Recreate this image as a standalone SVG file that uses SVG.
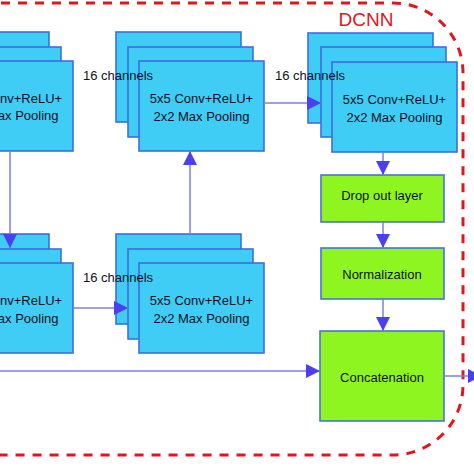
<svg xmlns="http://www.w3.org/2000/svg" width="474" height="474" viewBox="0 0 474 474">
<defs>
<style>
.b{fill:#3fcdf6;stroke:#3b6fe0;stroke-width:1.6}
.g{fill:#8ef521;stroke:#4a72d8;stroke-width:1.6}
.t{font-family:"Liberation Sans",Arial,sans-serif;font-size:13px;fill:#111122;text-anchor:middle}
.c{stroke:#7b7fe6;stroke-width:1.5;fill:none}
</style>
<marker id="ah" viewBox="0 0 10 10" refX="10" refY="5" markerWidth="17" markerHeight="14" markerUnits="userSpaceOnUse" orient="auto">
<path d="M0,0 L10,5 L0,10 Z" fill="#4a3ff2"/>
</marker>
</defs>
<rect width="474" height="474" fill="#ffffff"/>
<rect x="-120" y="3" width="583" height="452" rx="70" ry="70" fill="none" stroke="#e0161c" stroke-width="3" stroke-dasharray="9,8"/>
<text x="366" y="26" font-family="'Liberation Sans',Arial,sans-serif" font-size="19" fill="#e0161c" text-anchor="middle">DCNN</text>
<g id="conv1">
<rect class="b" x="-76" y="32" width="125" height="90"/>
<rect class="b" x="-64" y="47" width="125" height="90"/>
<rect class="b" x="-52" y="61" width="125" height="90"/>
<text class="t" x="10.5" y="103">5x5 Conv+ReLU+</text>
<text class="t" x="10.5" y="120">2x2 Max Pooling</text>
</g>
<g id="conv2">
<rect class="b" x="116" y="32" width="125" height="90"/>
<rect class="b" x="128" y="47" width="125" height="90"/>
<rect class="b" x="139" y="61" width="125" height="90"/>
<text class="t" x="201.5" y="103">5x5 Conv+ReLU+</text>
<text class="t" x="201.5" y="121">2x2 Max Pooling</text>
</g>
<g id="conv3">
<rect class="b" x="308" y="33" width="125" height="90"/>
<rect class="b" x="321" y="47" width="125" height="90"/>
<rect class="b" x="332" y="62" width="125" height="90"/>
<text class="t" x="394.5" y="104">5x5 Conv+ReLU+</text>
<text class="t" x="394.5" y="122">2x2 Max Pooling</text>
</g>
<g id="conv4">
<rect class="b" x="-76" y="234" width="125" height="90"/>
<rect class="b" x="-64" y="249" width="125" height="90"/>
<rect class="b" x="-52" y="263" width="125" height="90"/>
<text class="t" x="10.5" y="305">5x5 Conv+ReLU+</text>
<text class="t" x="10.5" y="323">2x2 Max Pooling</text>
</g>
<g id="conv5">
<rect class="b" x="116" y="234" width="125" height="90"/>
<rect class="b" x="128" y="249" width="125" height="90"/>
<rect class="b" x="139" y="263" width="125" height="90"/>
<text class="t" x="201.5" y="305">5x5 Conv+ReLU+</text>
<text class="t" x="201.5" y="323">2x2 Max Pooling</text>
</g>
<g id="dropout">
<rect class="g" x="321" y="175" width="123" height="47"/>
<text class="t" x="382" y="200">Drop out layer</text>
</g>
<g id="norm">
<rect class="g" x="321" y="248" width="123" height="51"/>
<text class="t" x="382" y="279">Normalization</text>
</g>
<g id="concat">
<rect class="g" x="320" y="331" width="124" height="90"/>
<text class="t" x="382" y="382">Concatenation</text>
</g>
<g id="connectors">
<line class="c" x1="10" y1="151" x2="10" y2="248" marker-end="url(#ah)"/>
<line class="c" x1="190" y1="234" x2="190" y2="151" marker-end="url(#ah)"/>
<line class="c" x1="73" y1="308" x2="128" y2="308" marker-end="url(#ah)"/>
<line class="c" x1="264" y1="103" x2="321" y2="103" marker-end="url(#ah)"/>
<line class="c" x1="383" y1="152" x2="383" y2="175" marker-end="url(#ah)"/>
<line class="c" x1="383" y1="222" x2="383" y2="248" marker-end="url(#ah)"/>
<line class="c" x1="383" y1="299" x2="383" y2="331" marker-end="url(#ah)"/>
<line class="c" x1="0" y1="371" x2="320" y2="371" marker-end="url(#ah)"/>
<line class="c" x1="444" y1="376" x2="482" y2="376" marker-end="url(#ah)"/>
</g>
<g id="labels">
<text class="t" x="118" y="80">16 channels</text>
<text class="t" x="310" y="80">16 channels</text>
<text class="t" x="118" y="282">16 channels</text>
</g>
</svg>
